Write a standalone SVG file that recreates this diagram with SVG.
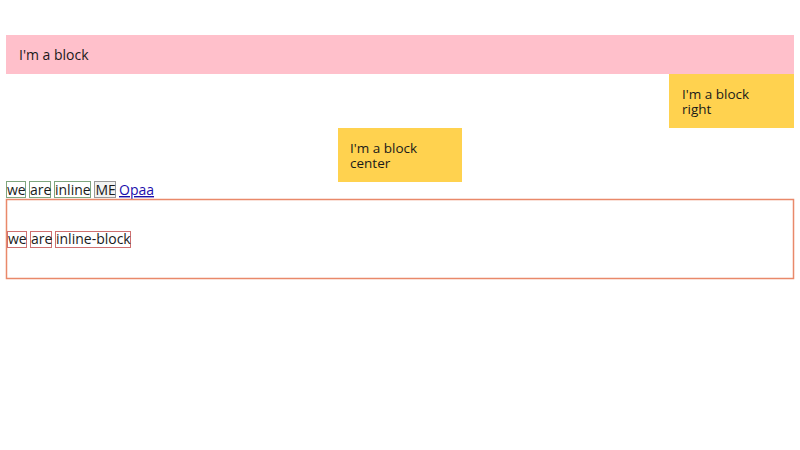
<svg xmlns="http://www.w3.org/2000/svg" width="800" height="450" viewBox="0 0 800 450">
<style>
text{font-family:"Open Sans","Liberation Sans",sans-serif;font-size:14px;fill:#1a1a1a}
.ml{font-size:13.5px}
.blk{fill:#ffd24f}
.inl{fill:none;stroke:#7fa57f;stroke-width:1}
.ib{fill:none;stroke:#cf7070;stroke-width:1}
</style>
<rect x="0" y="0" width="800" height="450" fill="#fff"/>
<g id="block">
<rect x="6" y="35" width="788" height="39" fill="#ffc0cb"/>
<text x="19" y="60">I'm a block</text>
</g>
<g id="block-right">
<rect class="blk" x="669" y="74" width="125" height="54"/>
<text class="ml" x="682" y="99">I'm a block</text>
<text class="ml" x="682" y="114">right</text>
</g>
<g id="block-center">
<rect class="blk" x="338" y="128" width="124" height="54"/>
<text class="ml" x="350" y="153">I'm a block</text>
<text class="ml" x="350" y="168">center</text>
</g>
<g id="inline-row">
<rect class="inl" x="6.5" y="181.5" width="19" height="16"/>
<text x="7" y="195">we</text>
<rect class="inl" x="29.5" y="181.5" width="21" height="16"/>
<text x="30" y="195">are</text>
<rect class="inl" x="54.5" y="181.5" width="36" height="16"/>
<text x="55" y="195">inline</text>
<rect x="94.5" y="181.5" width="21" height="16" fill="#f2f2f2" stroke="#999"/>
<text x="95.5" y="195" font-size="13px">ME</text>
<text x="119" y="195" style="fill:#1a0dab" text-decoration="underline">Opaa</text>
</g>
<g id="inline-block-container">
<rect x="6.5" y="199.5" width="787" height="79" fill="none" stroke="#e9896a" stroke-width="1.5"/>
<rect class="ib" x="7.5" y="231.5" width="19" height="16"/>
<text x="8" y="244">we</text>
<rect class="ib" x="30.5" y="231.5" width="21" height="16"/>
<text x="31" y="244">are</text>
<rect class="ib" x="55.5" y="231.5" width="75" height="16"/>
<text x="56" y="244">inline-block</text>
</g>
</svg>
